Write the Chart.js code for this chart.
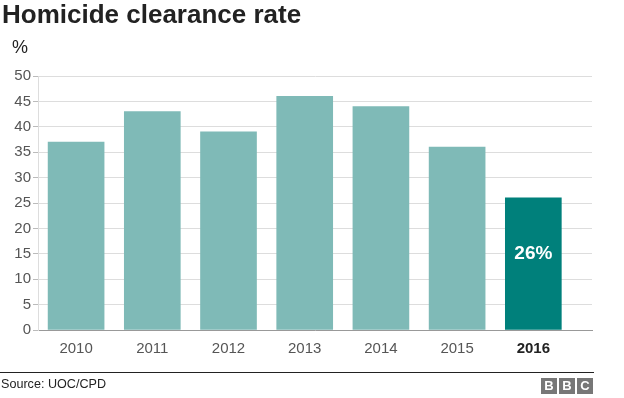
<!DOCTYPE html>
<html><head><meta charset="utf-8">
<script src="https://cdn.jsdelivr.net/npm/chart.js@4"></script>
<style>
html,body{margin:0;padding:0;background:#fff;}
body{width:624px;height:398px;position:relative;overflow:hidden;font-family:"Liberation Sans",Arial,sans-serif;}
#title{position:absolute;left:2px;top:-1px;font-size:26px;font-weight:bold;color:#222;}
#unit{position:absolute;left:12px;top:37px;font-size:18px;color:#222;}
#wrap{position:absolute;left:0;top:0;width:624px;height:398px;}
#rule{position:absolute;left:0;top:372px;width:594px;height:1px;background:#222;}
#source{position:absolute;left:1px;top:377px;font-size:12.6px;color:#222;}
#bbc{position:absolute;left:541px;top:378px;display:flex;gap:2px;}
#bbc span{display:block;width:16px;height:16px;background:#777;color:#fff;font-weight:bold;font-size:13px;line-height:16px;text-align:center;}
</style></head>
<body>
<div id="wrap"><canvas id="c" width="624" height="398"></canvas></div>
<div id="title">Homicide clearance rate</div>
<div id="unit">%</div>
<div id="rule"></div>
<div id="source">Source: UOC/CPD</div>
<div id="bbc"><span>B</span><span>B</span><span>C</span></div>
<script>
const categories = ["2010","2011","2012","2013","2014","2015","2016"];
const values = [37, 43, 39, 46, 44, 36, 26];
const yTicks = [0,5,10,15,20,25,30,35,40,45,50];
const highlightIndex = 6;
const highlightLabel = "26%";

const light = "#7fbab7", dark = "#00807b";

const labelPlugin = {
  id: "barLabel",
  afterDatasetsDraw(chart) {
    const meta = chart.getDatasetMeta(0);
    const bar = meta.data[highlightIndex];
    const ctx = chart.ctx;
    ctx.save();
    ctx.fillStyle = "#fff";
    ctx.font = "bold 19px 'Liberation Sans', Arial, sans-serif";
    ctx.textAlign = "center";
    ctx.textBaseline = "middle";
    ctx.fillText(highlightLabel, bar.x, chart.scales.y.getPixelForValue(15));
    ctx.restore();
  }
};

new Chart(document.getElementById("c"), {
  type: "bar",
  data: {
    datasets: [{
      data: values.map((v,i)=>({x:i,y:v})),
      backgroundColor: values.map((v,i)=> i===highlightIndex ? dark : light),
      borderWidth: 0,
      barThickness: 56
    }]
  },
  options: {
    responsive: false,
    animation: false,
    devicePixelRatio: 1,
    layout: { padding: { top: 76, right: 32, left: 0, bottom: 0 } },
    plugins: { legend: { display: false }, tooltip: { enabled: false } },
    scales: {
      x: {
        type: "linear",
        min: -0.5,
        max: 6.77,
        offset: false,
        afterFit(s){ s.height = 68; },
        afterBuildTicks(s){ s.ticks = categories.map((c,i)=>({value:i})); },
        grid: { display: false, drawTicks: false },
        border: { display: true, color: "#999", width: 1 },
        ticks: {
          padding: 10,
          autoSkip: false,
          maxRotation: 0,
          callback: (v)=> categories[v],
          color: (c)=> c.index===highlightIndex ? "#222" : "#555",
          font: (c)=> ({ family: "'Liberation Sans', Arial, sans-serif", size: 15, weight: c.index===highlightIndex ? "bold" : "normal" })
        }
      },
      y: {
        min: 0, max: 50,
        afterFit(s){ s.width = 38; },
        afterBuildTicks(s){ s.ticks = yTicks.map(v=>({value:v})); },
        grid: { color: "#dddddd", tickLength: 5, drawTicks: true, tickColor: "#bbb" },
        border: { display: true, color: "#dddddd" },
        ticks: {
          padding: 2,
          color: "#555",
          font: { family: "'Liberation Sans', Arial, sans-serif", size: 15 }
        }
      }
    }
  },
  plugins: [labelPlugin]
});
</script>
</body></html>
